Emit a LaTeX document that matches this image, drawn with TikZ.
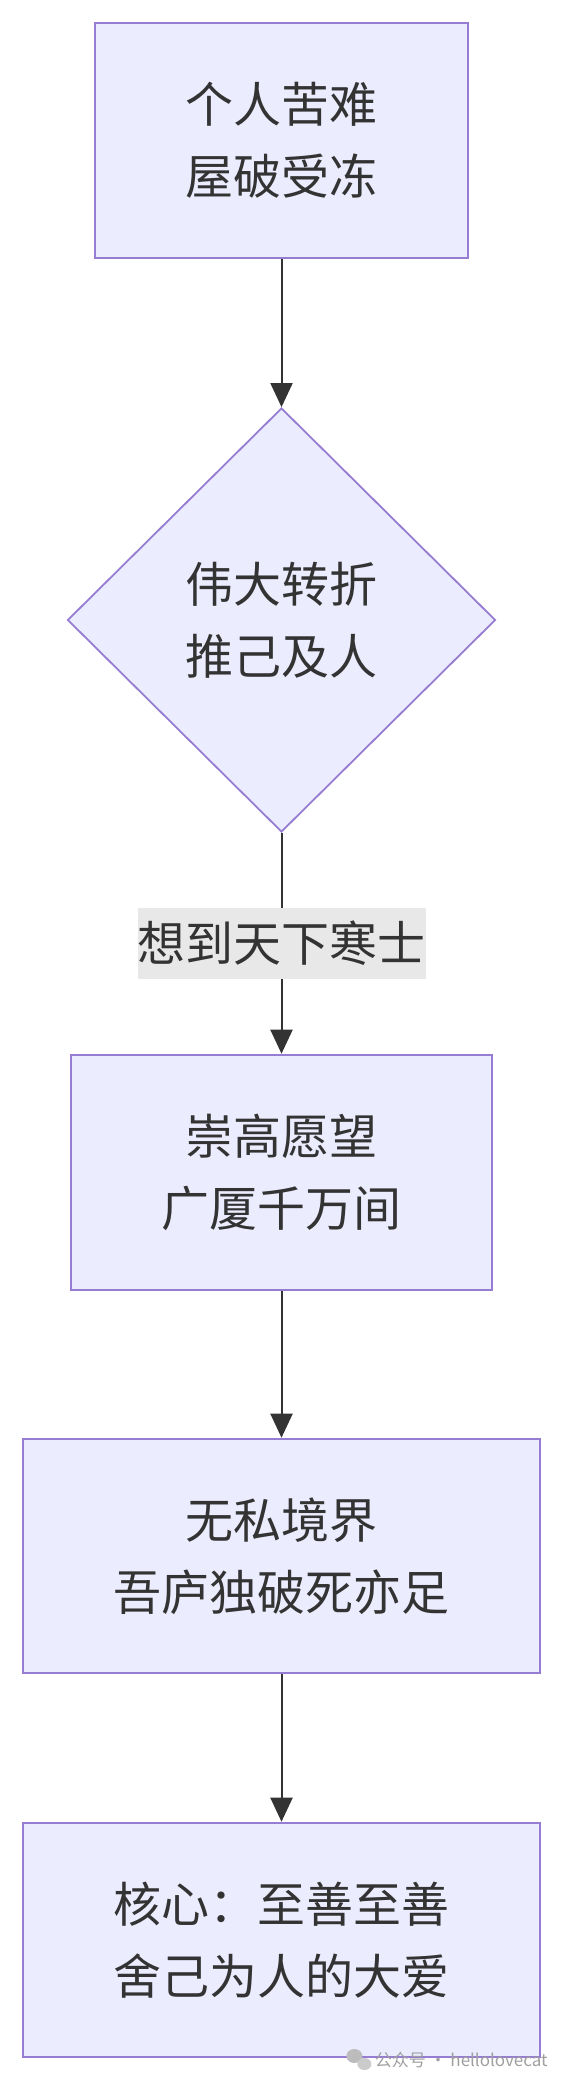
\documentclass[tikz,border=0pt]{standalone}
\usepackage{xcolor,tikz,fontspec}
\usetikzlibrary{arrows.meta,positioning,shapes.geometric}
\newfontfamily\cjk{Noto Sans CJK SC}
\definecolor{lavender}{RGB}{236,236,255}
\definecolor{purple}{RGB}{150,125,210}
\definecolor{ink}{RGB}{51,51,51}
\definecolor{labgray}{RGB}{232,232,232}
\definecolor{mark}{RGB}{160,160,160}
\tikzset{
  arr/.style={-{Triangle[length=12pt,width=11pt]},line width=1pt,draw=ink},
  card/.style={draw=purple,fill=lavender,line width=1.3pt,inner sep=0pt,align=center,
    text=ink,font=\cjk\fontsize{24}{36}\selectfont},
  choice/.style={card,diamond,line width=0.9pt},
  lab/.style={fill=labgray,inner sep=0pt,text=ink,minimum width=143.5pt,minimum height=35.5pt,
    font=\cjk\fontsize{24}{36}\selectfont},
  wmark/.style={text=mark,font=\cjk\fontsize{8.5}{10}\selectfont,inner sep=0pt}
}
\begin{document}
\begin{tikzpicture}[x=0.5pt,y=-0.5pt]
  \useasboundingbox[fill=white] (0,0) rectangle (564,2082);

  \node[card,minimum width=186.5pt,minimum height=117.5pt] (pain) at (281.5,140.5) {个人苦难\\屋破受冻};
  \node[choice,minimum width=214pt,minimum height=212pt] (turn) at (281.5,620) {伟大转折\\推己及人};
  \node[card,minimum width=210.5pt,minimum height=117.5pt] (wish) at (281.5,1172.5) {崇高愿望\\广厦千万间};
  \node[card,minimum width=258.5pt,minimum height=117pt] (selfless) at (281.5,1556) {无私境界\\吾庐独破死亦足};
  \node[card,minimum width=258.5pt,minimum height=117pt] (core) at (281.5,1940) {核心：至善至善\\舍己为人的大爱};

  \draw[arr] (pain) -- (turn);
  \draw[arr] (turn) -- node[lab] {想到天下寒士} (wish);
  \draw[arr] (wish) -- (selfless);
  \draw[arr] (selfless) -- (core);

  % watermark
  \node[wmark,anchor=east] (wm) at (548,2060) {公众号 · hellolovecat};
  \fill[mark!70] ([xshift=-10pt,yshift=2pt]wm.west) ellipse (4pt and 3.5pt);
  \fill[mark!55] ([xshift=-5pt,yshift=-2pt]wm.west) ellipse (3.5pt and 3pt);
\end{tikzpicture}
\end{document}
